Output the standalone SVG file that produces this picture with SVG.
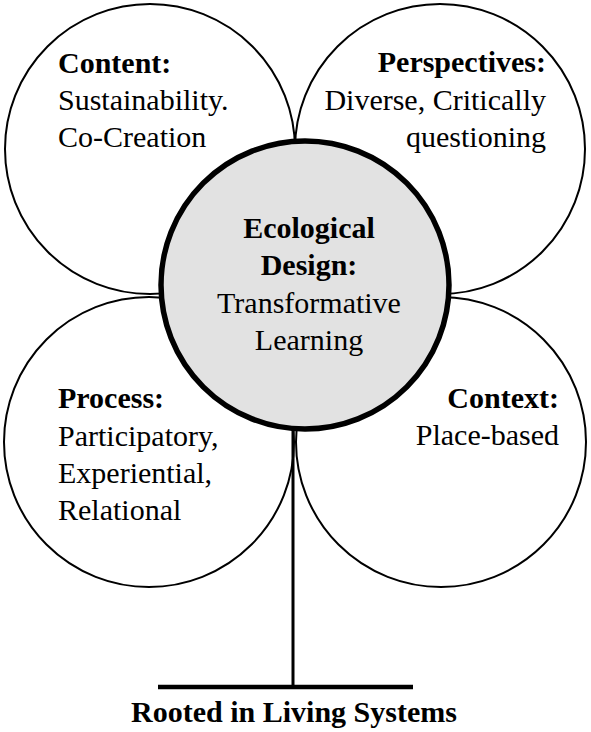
<svg xmlns="http://www.w3.org/2000/svg" width="591" height="732" viewBox="0 0 591 732">
<style>
.petal{fill:#fff;stroke:#000;stroke-width:2}
.core{fill:#e2e2e2;stroke:#000;stroke-width:5.5}
text{font-family:"Liberation Serif","Times New Roman",serif;font-size:30px;fill:#000}
.b{font-weight:bold}
.r{text-anchor:end}
.m{text-anchor:middle}
.line{stroke:#000;fill:none}
</style>
<rect width="591" height="732" fill="#fff"/>
<g id="petal-content">
<circle class="petal" cx="150" cy="149" r="145"/>
<text x="58" y="73" class="b">Content:</text>
<text x="58" y="110">Sustainability.</text>
<text x="58" y="147">Co-Creation</text>
</g>
<g id="petal-perspectives">
<circle class="petal" cx="440" cy="149" r="145"/>
<text x="546" y="72" class="b r">Perspectives:</text>
<text x="546" y="110" class="r">Diverse, Critically</text>
<text x="546" y="147" class="r">questioning</text>
</g>
<g id="petal-process">
<circle class="petal" cx="149" cy="442" r="145"/>
<text x="58" y="408" class="b">Process:</text>
<text x="58" y="446">Participatory,</text>
<text x="58" y="483">Experiential,</text>
<text x="58" y="520">Relational</text>
</g>
<g id="petal-context">
<circle class="petal" cx="441" cy="442" r="145"/>
<text x="559" y="408" class="b r">Context:</text>
<text x="559" y="445" class="r">Place-based</text>
</g>
<g id="connectors">
<line class="line" x1="293" y1="430" x2="293" y2="687" stroke-width="3"/>
<line class="line" x1="158" y1="687" x2="413" y2="687" stroke-width="4.5"/>
</g>
<g id="core">
<circle class="core" cx="305" cy="285" r="144"/>
<text x="309" y="238" class="b m">Ecological</text>
<text x="309" y="275" class="b m">Design:</text>
<text x="309" y="313" class="m">Transformative</text>
<text x="309" y="350" class="m">Learning</text>
</g>
<g id="root">
<text x="294" y="722" class="b m">Rooted in Living Systems</text>
</g>
</svg>
